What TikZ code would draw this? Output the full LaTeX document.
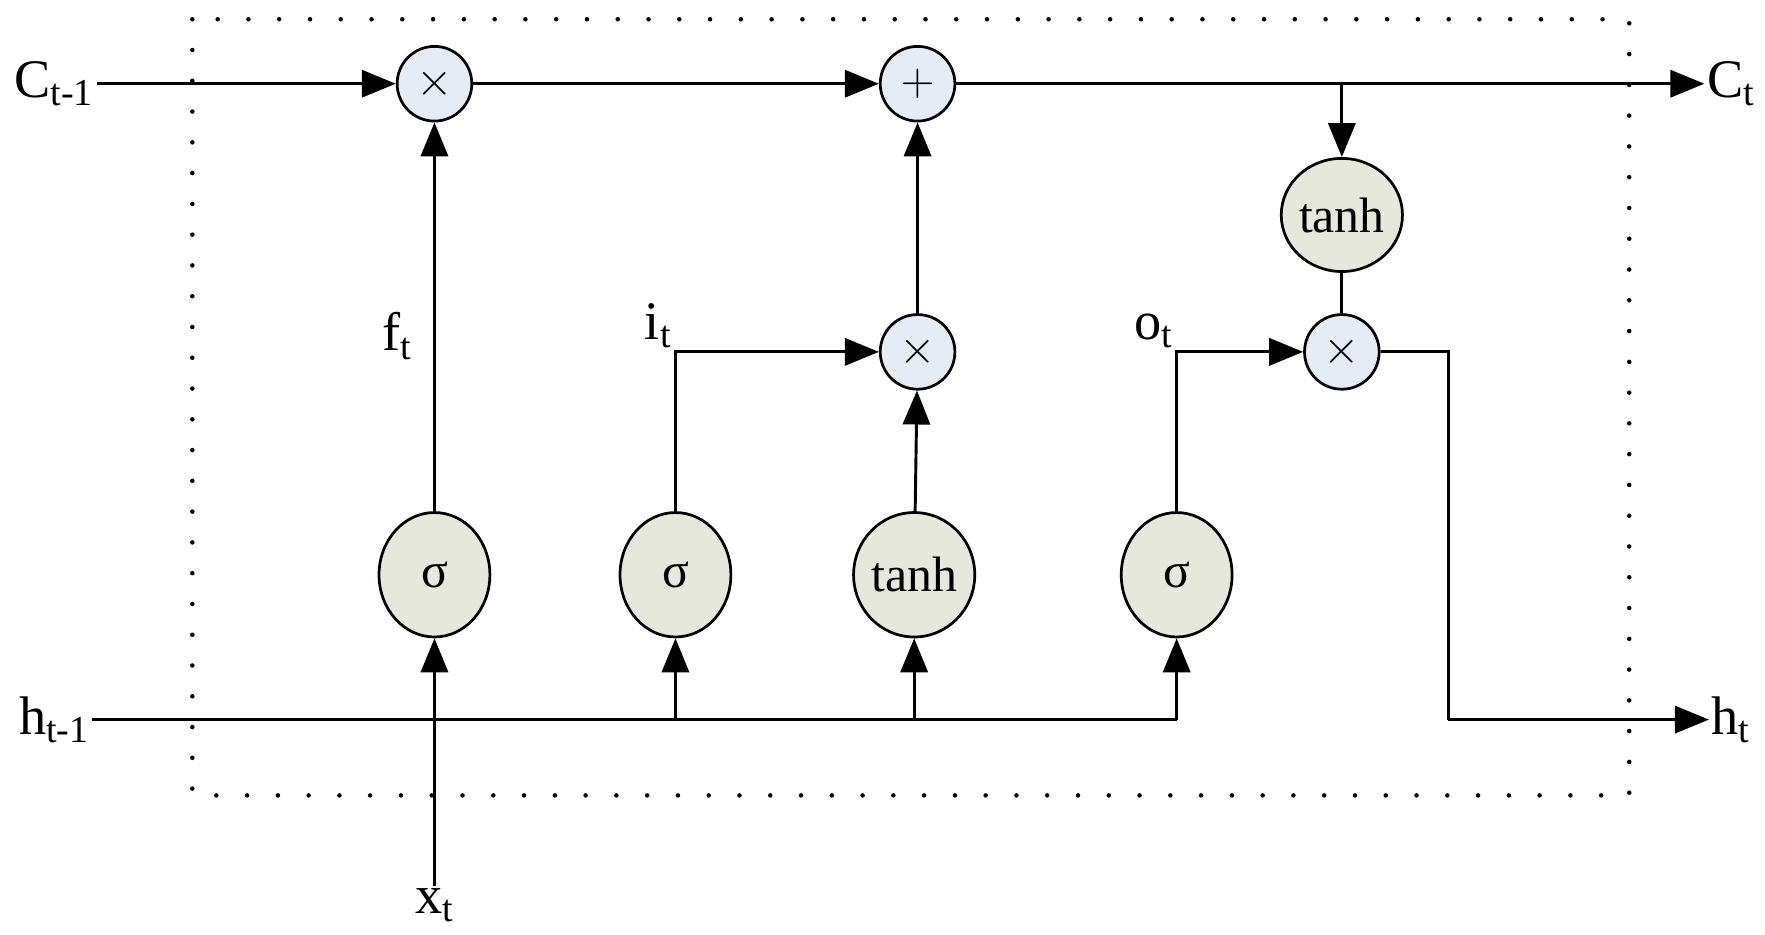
\documentclass[tikz,border=0pt]{standalone}
\usepackage{fontspec}
\setmainfont{Liberation Serif}
\usetikzlibrary{arrows.meta,shapes.geometric}
\definecolor{opfill}{HTML}{E6ECF6}
\definecolor{actfill}{HTML}{E5E8DA}
\tikzset{
  op/.style={circle, draw, line width=1.2pt, fill=opfill, minimum size=33pt, inner sep=0pt, font=\fontsize{20}{20}\selectfont},
  act/.style={ellipse, draw, line width=1.2pt, fill=actfill, minimum width=49pt, minimum height=55pt, inner sep=0pt, font=\fontsize{22}{22}\selectfont},
  lbl/.style={font=\fontsize{24}{24}\selectfont, inner sep=1pt},
  flow/.style={line width=1.3pt, -{Triangle[length=15pt,width=12pt]}},
  wire/.style={line width=1.3pt}
}
\begin{document}
\begin{tikzpicture}[x=0.5pt, y=-0.5pt]
  \useasboundingbox (0,0) rectangle (1560,826);
  \draw [line width=2pt, dash pattern=on 0pt off 13.6pt, line cap=round] (170,17) rectangle (1440,703);
  % operators
  \node (fmul) [op] at (384,74) {$\times$};
  \node (add) [op] at (811,74) {$+$};
  \node (imul) [op] at (811,311) {$\times$};
  \node (omul) [op] at (1186,311) {$\times$};
  % activations
  \node (fsig) [act] at (384,508) {σ};
  \node (isig) [act] at (597,508) {σ};
  \node (ctanh) [act] at (808,508) {tanh};
  \node (osig) [act] at (1040,508) {σ};
  \node (htanh) [act, minimum height=50pt] at (1186,190) {tanh};
  % inputs and outputs
  \node (cin) [lbl] at (48,74) {C\textsubscript{t-1}};
  \node (cout) [lbl] at (1530,74) {C\textsubscript{t}};
  \node (hin) [lbl] at (48,636) {h\textsubscript{t-1}};
  \node (hout) [lbl] at (1530,636) {h\textsubscript{t}};
  \node (xin) [lbl] at (384,800) {x\textsubscript{t}};
  \coordinate (hsplit) at (1186,74);
  \coordinate (hturn) at (1280,311);
  \coordinate (hdown) at (1280,636);
  % cell state
  \draw [flow] (cin) -- (fmul);
  \draw [flow] (fmul) -- (add);
  \draw [flow] (add) -- (cout);
  \draw [flow] (hsplit) -- (htanh);
  \draw [wire] (htanh) -- (omul);
  % gates
  \draw [flow] (fsig) -- node [lbl, pos=0.45, left=8pt] {f\textsubscript{t}} (fmul);
  \draw [flow] (isig) |- node [lbl, pos=0.5, above left] {i\textsubscript{t}} (imul);
  \draw [flow] (ctanh) -- (imul);
  \draw [flow] (imul) -- (add);
  \draw [flow] (osig) |- node [lbl, pos=0.5, above left] {o\textsubscript{t}} (omul);
  % hidden input
  \draw [wire] (hin) -- (osig |- hin);
  \draw [flow] (isig |- hin) -- (isig);
  \draw [flow] (ctanh |- hin) -- (ctanh);
  \draw [flow] (osig |- hin) -- (osig);
  \draw [flow] (xin) -- (fsig);
  % output
  \draw [wire] (omul) -- (hturn) -- (hdown);
  \draw [flow] (hdown) -- (hout);
\end{tikzpicture}
\end{document}
